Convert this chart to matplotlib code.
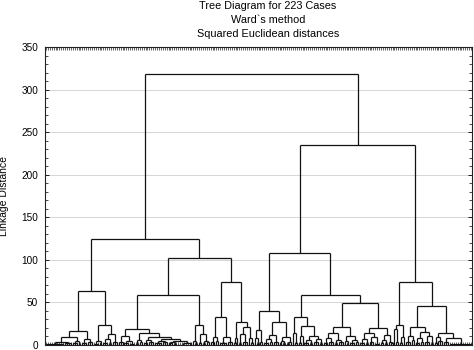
import re
import matplotlib
matplotlib.use("Agg")
import matplotlib.pyplot as plt
from matplotlib.collections import LineCollection
from matplotlib.ticker import MultipleLocator, NullFormatter

plt.rcParams['font.family'] = ['Liberation Sans', 'DejaVu Sans']

# ---- Data: dendrogram structure ----
# '.' = one case; "( ... )h" = cluster joined at linkage distance h
TITLE_LINES = ["Tree Diagram for 223 Cases", "Ward`s method", "Squared Euclidean distances"]
Y_LABEL = "Linkage Distance"
Y_TICKS = [0, 50, 100, 150, 200, 250, 300, 350]
N_CASES = 223

A1a = "( ( (..........)0.6 (....)2 )4 ( (...)2 (..)1 )5 )9"
A1b = "( (...)2 (...)4 )7"
A2 = "( ( (...)1 (..)2 )5 ( ( (...)2 (..)1 )7 (...)3 )13 )24"
B1a = "( (...)3 ( (...)2 (...)1 )5 )11"
B1b = "( ( (..)1 (..)3 )6 ( ( (...)2 (...)4 )6 ( ( (....)2 (...)3 )5 ( ( (...)2 (..)1 )4 ( (......)0.5 (..)1 )2 )5 )7 )9 )14"
B2 = "( ( . (..)1 )5 ( (..)2 ( (..)1 (..)3 )5 )13 )24"
C1 = "( ( (...)3 (..)5 )9 ( (....)2 (...)4 )9 )32.6"
C2 = "( ( (..)2 . )8 ( ( (..)1 (...)4 )13 ( . (..)2 )8 )21 )27"
R1a = "( ( ( . (..)1 )8 (..)3 )18 ( ( ( (...)2 (..)4 )7 (...)3 )12 ( ( (..)2 (..)1 )5 ( (..)1 . )3 )9 )27 )40"
R1b1 = "( ( . (..)2 )14 ( ( (..)2 . )10 ( ( (...)2 (..)1 )6 ( (...)3 (..)1 )7 )11 )22.6 )33"
P = "( ( ( (...)2 (...)4 )8 ( (..)1 (...)3 )6 )14 ( ( . (..)1 )5 ( (...)2 (..)3 )6 )11 )21"
Q = "( ( ( (...)2 (..)1 )7 ( (...)3 (...)1 )9 )14 ( ( (..)2 (..)1 )6 ( . (..)2 )4 )12 )20"
R2a = "( ( . (..)3 )19 ( (..)2 . )9 )24"
S = "( ( (...)3 (..)6 )11 ( ( (...)2 (..)4 )8 ( (...)3 (..)1 )10 )15 )21"
T = "( ( (..)2 (...)5 )9 ( (...)3 (............)0.6 )8 )14"

# upper-level linkage distances
H_A1, H_A, H_B1, H_B, H_C, H_BC, H_LEFT = 16, 63, 18.7, 58.5, 74, 102, 125
H_R1b2, H_R1b, H_R1, H_R2b, H_R2, H_RIGHT, H_ROOT = 49, 58.5, 108, 46, 74, 235, 318.5

A = f"( ( {A1a} {A1b} ){H_A1} {A2} ){H_A}"
B = f"( ( {B1a} {B1b} ){H_B1} {B2} ){H_B}"
C = f"( {C1} {C2} ){H_C}"
LEFT = f"( {A} ( {B} {C} ){H_BC} ){H_LEFT}"
R1 = f"( {R1a} ( {R1b1} ( {P} {Q} ){H_R1b2} ){H_R1b} ){H_R1}"
R2 = f"( {R2a} ( {S} {T} ){H_R2b} ){H_R2}"
TREE = f"( {LEFT} ( {R1} {R2} ){H_RIGHT} ){H_ROOT}"


def parse(s):
    tokens = re.findall(r"\(|\)\d+(?:\.\d+)?|\.", s)
    stack = [[]]
    for tok in tokens:
        if tok == "(":
            stack.append([])
        elif tok == ".":
            stack[-1].append(None)
        else:
            children = stack.pop()
            stack[-1].append((float(tok[1:]), children))
    return stack[0][0]


def layout(node, counter, segs):
    if node is None:
        counter[0] += 1
        return counter[0], 0.0
    h, children = node
    pts = [layout(c, counter, segs) for c in children]
    xs = [p[0] for p in pts]
    for x, y in pts:
        segs.append([(x, y), (x, h)])
    segs.append([(min(xs), h), (max(xs), h)])
    return (min(xs) + max(xs)) / 2.0, h


tree = parse(TREE)
counter = [0]
segs = []
layout(tree, counter, segs)

fig = plt.figure(figsize=(4.74, 3.5), dpi=100)
ax = fig.add_axes([45 / 474, 5 / 350, 427 / 474, 298 / 350])
ax.add_collection(LineCollection(segs, colors="#111111", linewidths=0.9))
ax.set_xlim(0.5, N_CASES + 0.5)
ax.set_ylim(0, 350)

ax.set_yticks(Y_TICKS)
ax.yaxis.set_minor_locator(MultipleLocator(10))
ax.set_xticks(range(1, N_CASES + 1))
ax.xaxis.set_major_formatter(NullFormatter())
ax.tick_params(axis="x", direction="in", length=2.5, width=0.5, top=True, bottom=True, color="#222222")
ax.tick_params(axis="y", which="major", direction="in", length=3, width=0.6, right=True,
               labelsize=7.2, pad=5)
ax.tick_params(axis="y", which="minor", direction="in", length=2, width=0.5, right=True)
ax.yaxis.grid(True, color="#cfcfcf", linewidth=0.6)
ax.set_axisbelow(True)
for sp in ax.spines.values():
    sp.set_linewidth(0.8)
    sp.set_color("#222222")

ax.set_ylabel(Y_LABEL, fontsize=7.5)
ax.yaxis.set_label_coords(-(45 - 9) / 427, 0.5)

for txt, ypx in zip(TITLE_LINES, [6, 20, 34]):
    fig.text(268 / 474, 1 - ypx / 350, txt, ha="center", va="center", fontsize=7.8)

fig.savefig("out.png", dpi=100)
